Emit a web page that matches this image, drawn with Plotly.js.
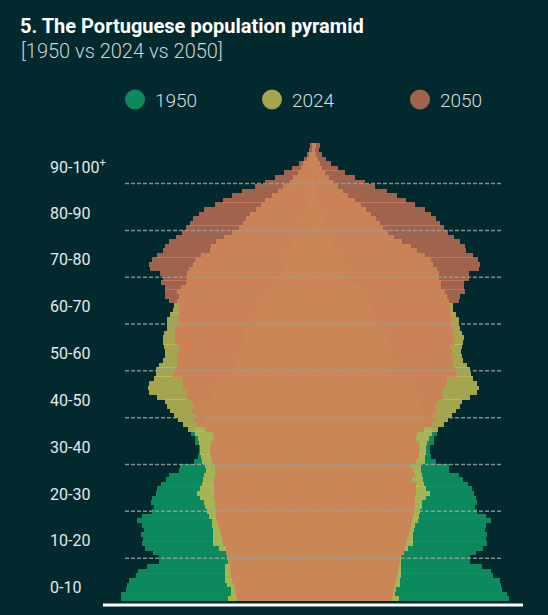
<!DOCTYPE html>
<html>
<head>
<meta charset="utf-8">
<script src="https://cdn.plot.ly/plotly-3.0.1.min.js"></script>
<style>
  html, body { margin: 0; padding: 0; background: #01292e; }
  #chart { width: 548px; height: 615px; }
</style>
</head>
<body>
<div id="chart"></div>
<script>
// ---- DATA (single-year ages 0..99, population in thousands) ----
const ages = Array.from({ length: 100 }, (_, i) => i);
const seriesNames = ['1950', '2024', '2050'];

const left1950 = [
  96.0, 96.0, 93.5, 93.0, 92.0, 88.5, 87.5, 83.0, 77.0, 77.0,
  80.0, 84.0, 85.5, 85.0, 86.0, 84.5, 85.5, 88.0, 85.5, 80.5,
  79.5, 81.0, 80.5, 78.5, 78.0, 76.0, 73.5, 72.0, 67.0, 66.5,
  59.5, 57.5, 57.0, 57.0, 59.0, 59.0, 61.0, 59.0, 56.0, 55.0,
  54.0, 53.5, 53.0, 52.0, 51.0, 50.5, 49.0, 48.0, 47.0, 40.0,
  39.5, 38.5, 38.0, 37.0, 36.5, 35.5, 35.0, 34.5, 34.0, 33.5,
  30.0, 29.5, 29.0, 28.5, 28.0, 25.0, 24.0, 22.5, 21.0, 19.5,
  18.0, 16.5, 15.2, 14.5, 13.8, 13.0, 12.2, 11.2, 10.3, 9.3,
  8.0, 6.8, 5.7, 4.7, 3.8, 3.0, 2.4, 1.9, 1.5, 1.1,
  0.8, 0.6, 0.4, 0.3, 0.2, 0.15, 0.1, 0.07, 0.05, 0.03
];
const right1950 = [
  98.0, 97.0, 94.5, 94.0, 93.5, 90.0, 89.0, 84.5, 78.5, 78.5,
  81.5, 85.0, 87.0, 86.5, 87.0, 86.0, 86.5, 89.0, 86.5, 82.0,
  81.0, 82.0, 81.5, 80.5, 79.5, 77.5, 75.0, 73.0, 68.0, 68.0,
  61.5, 59.0, 58.5, 58.5, 60.5, 60.5, 62.0, 59.5, 57.0, 56.0,
  55.5, 55.0, 54.0, 53.0, 52.5, 51.0, 50.5, 50.0, 49.0, 42.0,
  41.0, 40.5, 39.5, 39.0, 38.5, 38.0, 37.5, 36.5, 36.0, 35.0,
  31.0, 30.5, 30.0, 29.5, 28.5, 26.5, 25.0, 24.0, 23.5, 20.5,
  17.8, 17.0, 16.0, 15.2, 14.0, 12.8, 11.5, 10.2, 8.8, 7.8,
  7.2, 6.6, 5.8, 5.0, 4.3, 3.6, 3.0, 2.5, 2.0, 1.6,
  1.2, 0.9, 0.6, 0.4, 0.3, 0.2, 0.15, 0.1, 0.07, 0.05
];
const left2024 = [
  42.5, 41.0, 41.0, 43.0, 44.0, 44.0, 44.0, 44.0, 42.5, 43.0,
  43.5, 47.0, 50.0, 50.0, 50.0, 50.0, 50.5, 50.5, 52.0, 53.0,
  54.0, 54.5, 56.5, 58.0, 56.5, 55.5, 55.0, 54.5, 53.5, 54.0,
  55.5, 56.0, 56.5, 56.5, 57.0, 57.5, 59.0, 62.5, 65.0, 67.5,
  69.5, 71.5, 73.0, 74.0, 78.0, 82.0, 82.5, 82.0, 79.5, 78.5,
  78.5, 77.0, 75.0, 74.0, 74.0, 74.5, 75.0, 75.0, 74.5, 73.0,
  73.0, 73.0, 71.5, 70.0, 69.5, 68.0, 67.0, 68.0, 66.0, 63.5,
  63.0, 63.0, 62.0, 60.0, 59.0, 56.0, 51.5, 51.0, 48.5, 44.5,
  40.5, 37.0, 35.0, 33.5, 31.5, 28.5, 26.0, 24.0, 20.5, 17.5,
  15.0, 11.5, 10.0, 7.5, 6.0, 4.8, 2.8, 2.0, 0.5, 0.3
];
const right2024 = [
  43.0, 41.0, 41.5, 43.5, 43.5, 44.0, 44.0, 44.0, 44.0, 44.0,
  45.5, 47.5, 50.0, 50.0, 50.0, 50.5, 51.0, 52.5, 53.0, 53.5,
  54.5, 54.5, 56.5, 58.5, 56.5, 55.5, 55.0, 54.5, 54.0, 54.0,
  56.0, 56.0, 56.5, 56.5, 57.0, 58.0, 59.5, 62.5, 65.5, 67.5,
  69.5, 71.5, 73.5, 74.5, 78.5, 82.0, 83.0, 82.0, 80.0, 79.0,
  78.5, 77.0, 75.0, 74.5, 74.0, 74.5, 75.0, 75.5, 74.5, 73.5,
  73.0, 73.0, 71.5, 70.0, 70.0, 68.0, 67.0, 66.0, 64.0, 64.0,
  63.0, 63.0, 62.0, 60.0, 59.0, 56.0, 52.0, 49.0, 44.5, 40.5,
  37.5, 35.0, 33.5, 31.5, 29.0, 26.5, 24.0, 21.0, 17.5, 15.0,
  12.5, 10.5, 8.0, 6.0, 4.5, 3.5, 2.5, 1.5, 1.0, 1.5
];
const left2050 = [
  38.0, 38.5, 39.0, 39.5, 40.5, 41.0, 41.5, 41.5, 42.0, 42.5,
  43.5, 43.5, 45.0, 45.5, 46.0, 46.5, 47.5, 48.0, 48.5, 48.5,
  49.0, 49.0, 49.5, 49.5, 49.5, 49.5, 49.5, 49.0, 49.0, 49.0,
  50.5, 51.0, 51.5, 51.5, 51.0, 49.5, 50.0, 54.0, 57.5, 60.0,
  58.0, 60.5, 59.5, 61.0, 63.0, 63.0, 65.0, 65.0, 65.0, 70.0,
  69.0, 68.0, 68.0, 68.0, 67.0, 67.0, 69.0, 69.0, 69.0, 69.0,
  67.0, 67.5, 66.5, 67.0, 67.0, 72.0, 74.0, 74.0, 74.0, 76.0,
  75.0, 76.5, 81.5, 82.0, 80.5, 78.0, 75.0, 74.0, 72.0, 68.5,
  65.5, 63.5, 61.5, 60.0, 57.0, 54.5, 49.0, 45.0, 40.5, 35.5,
  29.0, 24.0, 19.0, 14.5, 10.5, 7.0, 4.5, 3.0, 2.0, 1.5
];
const right2050 = [
  39.5, 40.0, 40.5, 41.0, 41.5, 42.0, 42.5, 43.0, 43.5, 43.5,
  45.5, 46.0, 46.5, 47.0, 48.0, 48.5, 49.0, 49.5, 50.0, 50.5,
  51.0, 51.0, 51.0, 51.5, 51.5, 51.5, 49.5, 51.0, 50.0, 48.5,
  51.5, 53.0, 53.0, 53.5, 53.0, 51.5, 52.0, 55.5, 59.5, 61.5,
  60.0, 62.0, 61.0, 62.5, 65.0, 64.5, 66.0, 67.0, 67.0, 72.0,
  71.0, 69.5, 70.0, 69.5, 69.5, 68.5, 70.5, 70.5, 70.5, 70.0,
  69.0, 69.0, 69.0, 68.5, 68.5, 73.0, 73.5, 76.0, 75.5, 75.5,
  78.0, 78.0, 83.0, 83.5, 82.5, 80.0, 76.5, 76.0, 73.5, 70.5,
  67.5, 65.5, 63.5, 61.5, 59.0, 56.0, 51.0, 46.5, 42.0, 37.0,
  31.0, 26.0, 21.0, 16.0, 12.5, 9.0, 6.5, 4.5, 3.0, 3.5
];

const decadeStarts = [0, 10, 20, 30, 40, 50, 60, 70, 80, 90];
const decadeLabels = ['0-10', '10-20', '20-30', '30-40', '40-50', '50-60',
                      '60-70', '70-80', '80-90', '90-100<sup>+</sup>'];

// ---- STYLE ----
const BG = '#01292e';
const seriesColors = ['rgba(14,146,98,0.92)', 'rgba(193,187,84,0.85)', 'rgba(213,120,89,0.75)'];
const FONT = 'Roboto, "Liberation Sans", sans-serif';
const GRID_SCALE = 101.44;   // visual scale of the decade grid (paper 0..1)

const seriesData = [
  [left1950, right1950],
  [left2024, right2024],
  [left2050, right2050]
];

const traces = [];
seriesData.forEach((pair, i) => {
  traces.push({
    type: 'bar', orientation: 'h', y: ages, x: pair[0].map(v => -v),
    marker: { color: seriesColors[i], line: { width: 0 } },
    width: 1.04, hoverinfo: 'skip', showlegend: false, name: seriesNames[i]
  });
  traces.push({
    type: 'bar', orientation: 'h', y: ages, x: pair[1],
    marker: { color: seriesColors[i], line: { width: 0 } },
    width: 1.04, hoverinfo: 'skip', showlegend: false, name: seriesNames[i]
  });
});

const plotL = 103, plotW = 420, plotB = 605, plotH = 475;
const px2paperX = p => (p - plotL) / plotW;
const px2paperY = p => (plotB - p) / plotH;

const shapes = [];
const annotations = [];

// dashed decade lines
decadeStarts.slice(1).forEach(d => {
  shapes.push({
    type: 'line', xref: 'paper', yref: 'paper', layer: 'above',
    x0: px2paperX(125), x1: px2paperX(502),
    y0: d / GRID_SCALE, y1: d / GRID_SCALE,
    line: { color: 'rgba(150,160,158,0.85)', width: 1.5, dash: '4px,2px' }
  });
});
// baseline
shapes.push({
  type: 'line', xref: 'paper', yref: 'paper', layer: 'above',
  x0: 0, x1: 1, y0: 0, y1: 0, line: { color: '#ffffff', width: 3 }
});

// age-group labels
decadeStarts.forEach((d, i) => {
  annotations.push({
    xref: 'paper', yref: 'paper', x: px2paperX(48), y: (d + 3.7) / GRID_SCALE,
    xanchor: 'left', yanchor: 'middle', showarrow: false,
    text: decadeLabels[i], font: { family: FONT, size: 16, color: '#e4eaea' }
  });
});

// legend (circles + labels)
const legendCenters = [135, 272, 420];
seriesNames.forEach((n, i) => {
  shapes.push({
    type: 'circle', xref: 'paper', yref: 'paper',
    xsizemode: 'pixel', ysizemode: 'pixel',
    xanchor: px2paperX(legendCenters[i]), yanchor: px2paperY(99.5),
    x0: -10, x1: 10, y0: -10, y1: 10,
    fillcolor: seriesColors[i], line: { width: 0 }
  });
  annotations.push({
    xref: 'paper', yref: 'paper', x: px2paperX(legendCenters[i] + 18), y: px2paperY(100.5),
    xanchor: 'left', yanchor: 'middle', showarrow: false,
    text: n, font: { family: FONT, size: 19, weight: 300, color: '#d8dfde' }
  });
});

// subtitle
annotations.push({
  xref: 'paper', yref: 'paper', x: px2paperX(19), y: px2paperY(51),
  xanchor: 'left', yanchor: 'middle', showarrow: false,
  text: '[1950 vs 2024 vs 2050]', font: { family: FONT, size: 20, weight: 300, color: '#ccd4d3' }
});

const layout = {
  width: 548, height: 615,
  paper_bgcolor: BG, plot_bgcolor: BG,
  margin: { l: plotL, r: 548 - plotL - plotW, t: plotB - plotH, b: 615 - plotB },
  title: {
    text: '<b>5. The Portuguese population pyramid</b>',
    xref: 'container', yref: 'container', x: 20 / 548, xanchor: 'left',
    y: 1 - 26 / 615, yanchor: 'middle',
    font: { family: FONT, size: 20, color: '#ffffff' }
  },
  barmode: 'overlay', bargap: 0,
  xaxis: { range: [-105, 105], visible: false, fixedrange: true },
  yaxis: { range: [-1.373, 102.34], visible: false, fixedrange: true },
  shapes: shapes, annotations: annotations, showlegend: false
};

Plotly.newPlot('chart', traces, layout, { displayModeBar: false, staticPlot: true });
</script>
</body>
</html>
